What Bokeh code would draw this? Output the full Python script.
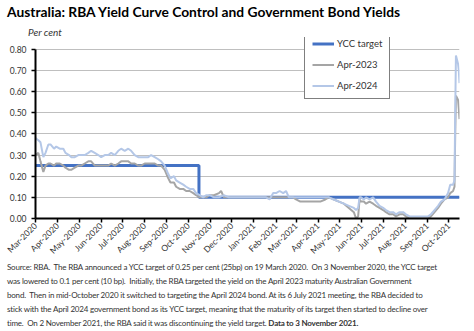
import pandas as pd
from math import pi
from bokeh.plotting import figure
from bokeh.layouts import column
from bokeh.models import (ColumnDataSource, FixedTicker, Legend, LegendItem, Div,
                          Range1d, NumeralTickFormatter)
from bokeh.embed import file_html
from bokeh.resources import INLINE

# ---------------- data ----------------
ycc_dates = ["2020-03-19", "2020-11-03", "2021-11-03"]
ycc_values = [0.25, 0.10, 0.10]

apr2024_dates = [
    "2020-03-19", "2020-03-23", "2020-03-26", "2020-03-30", "2020-04-02", "2020-04-06", "2020-04-09",
    "2020-04-14", "2020-04-17", "2020-04-22", "2020-04-27", "2020-04-30", "2020-05-05", "2020-05-08",
    "2020-05-13", "2020-05-18", "2020-05-22", "2020-05-27", "2020-06-01", "2020-06-05", "2020-06-10",
    "2020-06-15", "2020-06-19", "2020-06-24", "2020-06-29", "2020-07-03", "2020-07-08", "2020-07-13",
    "2020-07-17", "2020-07-22", "2020-07-27", "2020-07-31", "2020-08-05", "2020-08-10", "2020-08-14",
    "2020-08-19", "2020-08-24", "2020-08-28", "2020-09-02", "2020-09-07", "2020-09-11", "2020-09-16",
    "2020-09-21", "2020-09-24", "2020-09-29", "2020-10-02", "2020-10-07", "2020-10-12", "2020-10-16",
    "2020-10-21", "2020-10-26", "2020-10-30", "2020-11-04", "2020-11-09", "2020-11-13", "2020-11-18",
    "2020-11-24", "2020-12-01", "2020-12-08", "2020-12-15", "2020-12-22", "2020-12-31", "2021-01-08",
    "2021-01-15", "2021-01-22", "2021-01-29", "2021-02-05", "2021-02-10", "2021-02-15", "2021-02-19",
    "2021-02-24", "2021-03-01", "2021-03-05", "2021-03-09", "2021-03-15", "2021-03-22", "2021-03-29",
    "2021-04-06", "2021-04-13", "2021-04-20", "2021-04-27", "2021-05-04", "2021-05-11", "2021-05-18",
    "2021-05-25", "2021-06-01", "2021-06-08", "2021-06-11", "2021-06-14", "2021-06-16", "2021-06-18",
    "2021-06-22", "2021-06-25", "2021-06-30", "2021-07-05", "2021-07-09", "2021-07-14", "2021-07-19",
    "2021-07-23", "2021-07-28", "2021-08-02", "2021-08-06", "2021-08-11", "2021-08-16", "2021-08-20",
    "2021-08-25", "2021-08-31", "2021-09-06", "2021-09-13", "2021-09-20", "2021-09-24", "2021-09-29",
    "2021-10-04", "2021-10-08", "2021-10-13", "2021-10-18", "2021-10-21", "2021-10-25", "2021-10-27",
    "2021-10-28", "2021-10-29", "2021-11-01", "2021-11-02", "2021-11-03"]
apr2024_values = [
    0.38, 0.37, 0.36, 0.29, 0.31, 0.35, 0.35,
    0.33, 0.34, 0.33, 0.33, 0.31, 0.30, 0.29,
    0.29, 0.30, 0.30, 0.30, 0.31, 0.32, 0.31,
    0.30, 0.29, 0.30, 0.30, 0.31, 0.30, 0.32,
    0.33, 0.32, 0.33, 0.32, 0.30, 0.29, 0.29,
    0.29, 0.29, 0.30, 0.29, 0.28, 0.27, 0.25,
    0.21, 0.19, 0.20, 0.18, 0.17, 0.16, 0.15,
    0.14, 0.14, 0.12, 0.11, 0.10, 0.11, 0.11,
    0.10, 0.10, 0.11, 0.10, 0.10, 0.10, 0.10,
    0.10, 0.10, 0.10, 0.10, 0.09, 0.12, 0.12,
    0.13, 0.12, 0.13, 0.10, 0.10, 0.10, 0.10,
    0.10, 0.10, 0.10, 0.10, 0.10, 0.09, 0.08,
    0.07, 0.06, 0.05, 0.04, 0.05, 0.10, 0.10,
    0.09, 0.10, 0.09, 0.10, 0.08, 0.06, 0.05,
    0.04, 0.03, 0.03, 0.02, 0.03, 0.03, 0.02,
    0.01, 0.01, 0.01, 0.01, 0.01, 0.02, 0.04,
    0.06, 0.08, 0.09, 0.12, 0.16, 0.16, 0.18,
    0.50, 0.77, 0.73, 0.70, 0.64]

apr2023_dates = [
    "2020-03-19", "2020-03-23", "2020-03-26", "2020-03-30", "2020-04-02", "2020-04-06", "2020-04-09",
    "2020-04-14", "2020-04-17", "2020-04-22", "2020-04-27", "2020-04-30", "2020-05-05", "2020-05-08",
    "2020-05-13", "2020-05-18", "2020-05-22", "2020-05-27", "2020-06-01", "2020-06-05", "2020-06-10",
    "2020-06-15", "2020-06-19", "2020-06-24", "2020-06-29", "2020-07-03", "2020-07-08", "2020-07-13",
    "2020-07-17", "2020-07-22", "2020-07-27", "2020-07-31", "2020-08-05", "2020-08-10", "2020-08-14",
    "2020-08-19", "2020-08-24", "2020-08-28", "2020-09-02", "2020-09-07", "2020-09-11", "2020-09-16",
    "2020-09-21", "2020-09-24", "2020-09-29", "2020-10-02", "2020-10-07", "2020-10-12", "2020-10-16",
    "2020-10-21", "2020-10-26", "2020-10-30", "2020-11-04", "2020-11-09", "2020-11-13", "2020-11-18",
    "2020-11-24", "2020-12-01", "2020-12-04", "2020-12-08", "2020-12-15", "2020-12-22", "2020-12-31",
    "2021-01-08", "2021-01-15", "2021-01-22", "2021-01-29", "2021-02-05", "2021-02-12", "2021-02-19",
    "2021-02-26", "2021-03-05", "2021-03-10", "2021-03-15", "2021-03-19", "2021-03-25", "2021-04-01",
    "2021-04-08", "2021-04-15", "2021-04-22", "2021-04-29", "2021-05-04", "2021-05-11", "2021-05-18",
    "2021-05-25", "2021-06-01", "2021-06-08", "2021-06-11", "2021-06-14", "2021-06-16", "2021-06-18",
    "2021-06-22", "2021-06-25", "2021-06-30", "2021-07-05", "2021-07-09", "2021-07-14", "2021-07-19",
    "2021-07-23", "2021-07-28", "2021-08-02", "2021-08-06", "2021-08-11", "2021-08-16", "2021-08-20",
    "2021-08-25", "2021-08-31", "2021-09-06", "2021-09-13", "2021-09-20", "2021-09-24", "2021-09-29",
    "2021-10-04", "2021-10-08", "2021-10-13", "2021-10-18", "2021-10-21", "2021-10-25", "2021-10-27",
    "2021-10-28", "2021-10-29", "2021-11-01", "2021-11-02", "2021-11-03"]
apr2023_values = [
    0.30, 0.31, 0.27, 0.22, 0.25, 0.26, 0.26,
    0.25, 0.26, 0.26, 0.25, 0.24, 0.23, 0.23,
    0.24, 0.25, 0.25, 0.26, 0.27, 0.27, 0.25,
    0.25, 0.25, 0.25, 0.25, 0.26, 0.25, 0.26,
    0.27, 0.27, 0.27, 0.26, 0.26, 0.25, 0.25,
    0.26, 0.26, 0.26, 0.26, 0.25, 0.25, 0.23,
    0.19, 0.17, 0.17, 0.15, 0.14, 0.14, 0.13,
    0.13, 0.12, 0.11, 0.10, 0.10, 0.10, 0.11,
    0.11, 0.12, 0.13, 0.10, 0.10, 0.10, 0.10,
    0.10, 0.10, 0.10, 0.10, 0.10, 0.10, 0.10,
    0.10, 0.10, 0.10, 0.10, 0.09, 0.08, 0.08,
    0.08, 0.08, 0.08, 0.09, 0.10, 0.09, 0.08,
    0.07, 0.05, 0.03, 0.00, 0.01, 0.09, 0.08,
    0.08, 0.07, 0.08, 0.07, 0.06, 0.05, 0.04,
    0.03, 0.02, 0.02, 0.01, 0.02, 0.02, 0.01,
    0.00, 0.00, 0.00, 0.00, 0.00, 0.01, 0.03,
    0.05, 0.07, 0.09, 0.10, 0.12, 0.13, 0.15,
    0.40, 0.58, 0.56, 0.52, 0.47]

tick_dates = pd.date_range("2020-03-01", "2021-10-01", freq="MS") + pd.Timedelta(days=18)
tick_labels = ["Mar-2020", "Apr-2020", "May-2020", "Jun-2020", "Jul-2020", "Aug-2020", "Sep-2020",
               "Oct-2020", "Nov-2020", "Dec-2020", "Jan-2021", "Feb-2021", "Mar-2021", "Apr-2021",
               "May-2021", "Jun-2021", "Jul-2021", "Aug-2021", "Sep-2021", "Oct-2021"]
y_ticks = [0.0, 0.1, 0.2, 0.3, 0.4, 0.5, 0.6, 0.7, 0.8]

title_text = "Australia: RBA Yield Curve Control and Government Bond Yields"
unit_text = "Per cent"
note_lines = [
    "Source: RBA.&nbsp; The RBA announced a YCC target of 0.25 per cent (25bp) on 19 March 2020.&nbsp; On 3 November 2020, the YCC target",
    "was lowered to 0.1 per cent (10 bp).&nbsp; Initially, the RBA targeted the yield on the April 2023 maturity Australian Government",
    "bond.&nbsp; Then in mid-October 2020 it switched to targeting the April 2024 bond. At its 6 July 2021 meeting, the RBA decided to",
    "stick with the April 2024 government bond as its YCC target, meaning that the maturity of its target then started to decline over",
    "time.&nbsp; On 2 November 2021, the RBA said it was discontinuing the yield target. ",
]
note_bold = "Data to 3 November 2021."

# ---------------- layout constants ----------------
FONT = "Lato"
W = 474
TOP_H = 36           # header block (title + unit)
FIG_H = 226          # chart block
BOT_H = 69           # footnote block

# ---------------- header ----------------
header = Div(width=W, height=TOP_H, margin=0, text=(
    f'<div style="position:relative;width:{W}px;height:{TOP_H}px;font-family:{FONT};">'
    f'<div style="position:absolute;left:7px;top:3px;font-size:13.8px;font-weight:bold;'
    f'line-height:17px;color:#000;white-space:nowrap;">{title_text}</div>'
    f'<div style="position:absolute;left:28px;top:26px;font-size:10px;font-style:italic;'
    f'line-height:12px;color:#333;white-space:nowrap;">{unit_text}</div></div>'))

# ---------------- chart ----------------
p = figure(width=W, height=FIG_H, x_axis_type="datetime", output_backend="svg",
           toolbar_location=None, min_border_left=35, min_border_right=15,
           min_border_top=1, min_border_bottom=40, margin=0)
p.x_range = Range1d(pd.Timestamp("2020-03-19"), pd.Timestamp("2021-11-03"))
p.y_range = Range1d(0, 0.8 + 12 * 0.8 / 173)
p.outline_line_color = None
p.background_fill_color = "white"
p.border_fill_color = "white"

ycc_src = ColumnDataSource(dict(x=pd.to_datetime(ycc_dates), y=ycc_values))
a23_src = ColumnDataSource(dict(x=pd.to_datetime(apr2023_dates), y=apr2023_values))
a24_src = ColumnDataSource(dict(x=pd.to_datetime(apr2024_dates), y=apr2024_values))

r_ycc = p.step("x", "y", source=ycc_src, mode="after", line_color="#4472c4", line_width=3)
r_23 = p.line("x", "y", source=a23_src, line_color="#a5a5a5", line_width=2)
r_24 = p.line("x", "y", source=a24_src, line_color="#b4c7e7", line_width=2)

tick_ms = [t.value / 1e6 for t in tick_dates]
p.xaxis.ticker = FixedTicker(ticks=tick_ms)
p.xaxis.major_label_overrides = {t: lab for t, lab in zip(tick_ms, tick_labels)}
p.xaxis.major_label_orientation = pi / 4
p.xaxis.major_label_standoff = 2
p.yaxis.ticker = FixedTicker(ticks=y_ticks)
p.yaxis.formatter = NumeralTickFormatter(format="0.00")
p.yaxis.bounds = (0, 0.8)
p.yaxis.major_label_standoff = 5
for ax in (p.xaxis, p.yaxis):
    ax.axis_line_color = "black"
    ax.axis_line_width = 2
    ax.major_tick_line_color = "black"
    ax.major_tick_line_width = 1.5
    ax.major_tick_out = 4
    ax.major_tick_in = 0
    ax.minor_tick_line_color = None
    ax.major_label_text_font = FONT
    ax.major_label_text_font_size = "8.5px"
    ax.major_label_text_color = "#333333"
p.xgrid.grid_line_color = None
p.ygrid.grid_line_color = "#bfbfbf"
p.ygrid.grid_line_width = 1

legend = Legend(items=[LegendItem(label="YCC target", renderers=[r_ycc]),
                       LegendItem(label="Apr-2023", renderers=[r_23]),
                       LegendItem(label="Apr-2024", renderers=[r_24])],
                location=(269, 119), orientation="vertical",
                border_line_color="black", border_line_width=1,
                background_fill_color="white", background_fill_alpha=1,
                padding=7, spacing=10, margin=0,
                glyph_width=22, glyph_height=11, label_height=11,
                label_standoff=3, label_text_font=FONT, label_text_font_size="9.5px",
                label_text_color="#333333")
p.add_layout(legend, "center")

# ---------------- footnote ----------------
note_html = "<br>".join(note_lines[:-1] + [note_lines[-1] + f"<b>{note_bold}</b>"])
footer = Div(width=W, height=BOT_H, margin=0, text=(
    f'<div style="width:{W}px;height:{BOT_H}px;padding-left:7px;box-sizing:border-box;'
    f'font-family:{FONT};font-size:8px;letter-spacing:-0.2px;line-height:14px;margin-top:-2px;'
    f'color:#333;white-space:nowrap;">{note_html}</div>'))

layout = column(header, p, footer, spacing=0, margin=0)
open("out.html", "w").write(file_html(layout, INLINE))
